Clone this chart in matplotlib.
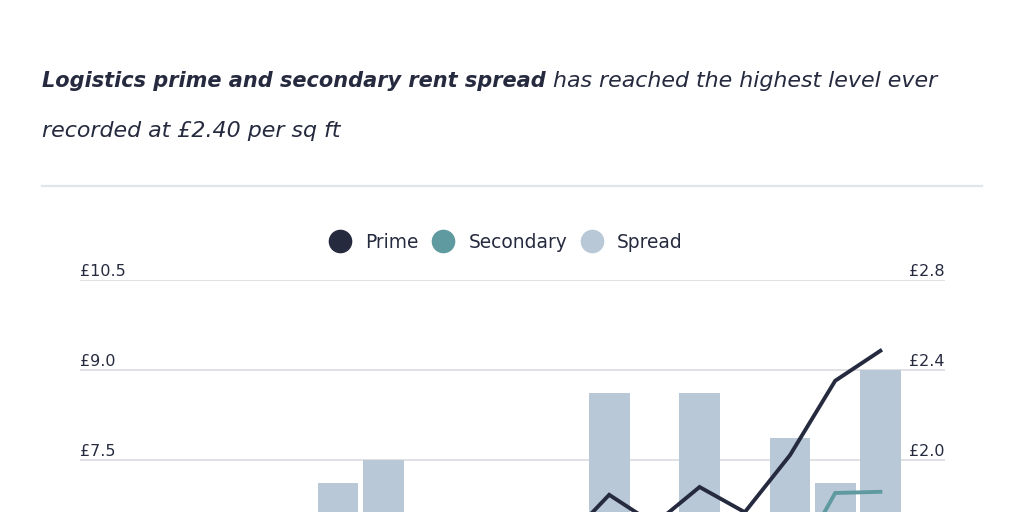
import numpy as np
import matplotlib
matplotlib.use("Agg")
import matplotlib.pyplot as plt
import matplotlib.transforms as mtransforms
from matplotlib.lines import Line2D

# data (the lower part of the chart is cut off)
years = list(range(2005, 2023))
prime = [5.6, 5.8, 6.0, 6.2, 6.3, 6.1, 5.7, 5.5, 5.6, 5.8, 6.13, 6.92, 6.43, 7.05, 6.63, 7.58, 8.82, 9.32]
secondary = [4.1, 4.2, 4.4, 4.5, 4.55, 4.2, 3.7, 3.8, 4.0, 4.15, 4.43, 4.62, 4.7, 4.75, 4.95, 5.6, 6.95, 6.97]
spread = [1.5, 1.6, 1.6, 1.7, 1.75, 1.9, 2.0, 1.7, 1.6, 1.65, 1.7, 2.3, 1.75, 2.3, 1.7, 2.1, 1.9, 2.4]
left_ticks = [0, 1.5, 3.0, 4.5, 6.0, 7.5, 9.0, 10.5]
right_ticks = [0, 0.4, 0.8, 1.2, 1.6, 2.0, 2.4, 2.8]

c_prime = "#262a3f"
c_sec = "#5f9aa1"
c_spread = "#b8c8d6"
c_text = "#262a3f"
font = "DejaVu Sans"

W, H = 1024, 512
fig = plt.figure(figsize=(W / 100, H / 100), dpi=100)
fig.patch.set_facecolor("white")

# title, bold part then normal italic part
renderer = fig.canvas.get_renderer()
t1 = fig.text(42 / W, 1 - 87 / H, "Logistics prime and secondary rent spread",
              fontsize=15, fontweight="bold", style="italic", color=c_text,
              family=font, va="baseline")
bb = t1.get_window_extent(renderer)
fig.text(bb.x1 / W + 7 / W, 1 - 87 / H, "has reached the highest level ever",
         fontsize=15.9, style="italic", color=c_text, family=font, va="baseline")
fig.text(42 / W, 1 - 137 / H, "recorded at £2.40 per sq ft",
         fontsize=15.9, style="italic", color=c_text, family=font, va="baseline")

# divider line
fig.add_artist(Line2D([42 / W, 982 / W], [1 - 186 / H, 1 - 186 / H],
                      transform=fig.transFigure, color="#dfe6ea", lw=1.6))

# axes, extending below the visible canvas
ax = fig.add_axes([80 / W, (H - 910) / H, 865 / W, 630 / H])
ax2 = ax.twinx()
x = np.arange(len(years))

ax2.bar(x, spread, width=0.9, color=c_spread, zorder=2)
ax2.set_ylim(0, 2.8)
ax2.set_yticks(right_ticks)
ax2.grid(axis="y", color="#d9dcdf", lw=1.2, zorder=0)
ax2.set_axisbelow(True)

ax.plot(x, prime, color=c_prime, lw=2.8, solid_joinstyle="miter", zorder=3)
ax.plot(x, secondary, color=c_sec, lw=2.8, solid_joinstyle="miter", zorder=3)
ax.set_ylim(0, 10.5)
ax.set_yticks(left_ticks)
ax.set_xlim(-0.708, 18.43)
ax.set_zorder(ax2.get_zorder() + 1)
ax.patch.set_visible(False)

for a in (ax, ax2):
    a.tick_params(left=False, right=False, bottom=False, labelleft=False,
                  labelright=False, labelbottom=False)
    for s in a.spines.values():
        s.set_visible(False)

# tick labels sitting above the grid lines (only the ones inside the canvas)
off = mtransforms.offset_copy(ax.transData, fig=fig, y=4, units="dots")
tl = mtransforms.blended_transform_factory(ax.transAxes, off)
for v in left_ticks:
    if ax.transData.transform((0, v))[1] < 20:
        continue
    ax.text(0, v, "£%.1f" % v, transform=tl, ha="left", va="baseline",
            fontsize=11.5, color=c_text, family=font)
off2 = mtransforms.offset_copy(ax2.transData, fig=fig, y=4, units="dots")
tr = mtransforms.blended_transform_factory(ax2.transAxes, off2)
for v in right_ticks:
    if ax2.transData.transform((0, v))[1] < 20:
        continue
    ax2.text(1, v, "£%.1f" % v, transform=tr, ha="right", va="baseline",
             fontsize=11.5, color=c_text, family=font)

# legend
handles = [Line2D([], [], ls="", marker="o", ms=16, color=c) for c in (c_prime, c_sec, c_spread)]
fig.legend(handles, ["Prime", "Secondary", "Spread"], loc="center",
           bbox_to_anchor=(506 / W, 1 - 242 / H), ncol=3, frameon=False,
           prop={"family": font, "size": 13.4}, labelcolor=c_text,
           handletextpad=0.75, columnspacing=0.72, handlelength=1.2)

fig.savefig("out.png", dpi=100)
